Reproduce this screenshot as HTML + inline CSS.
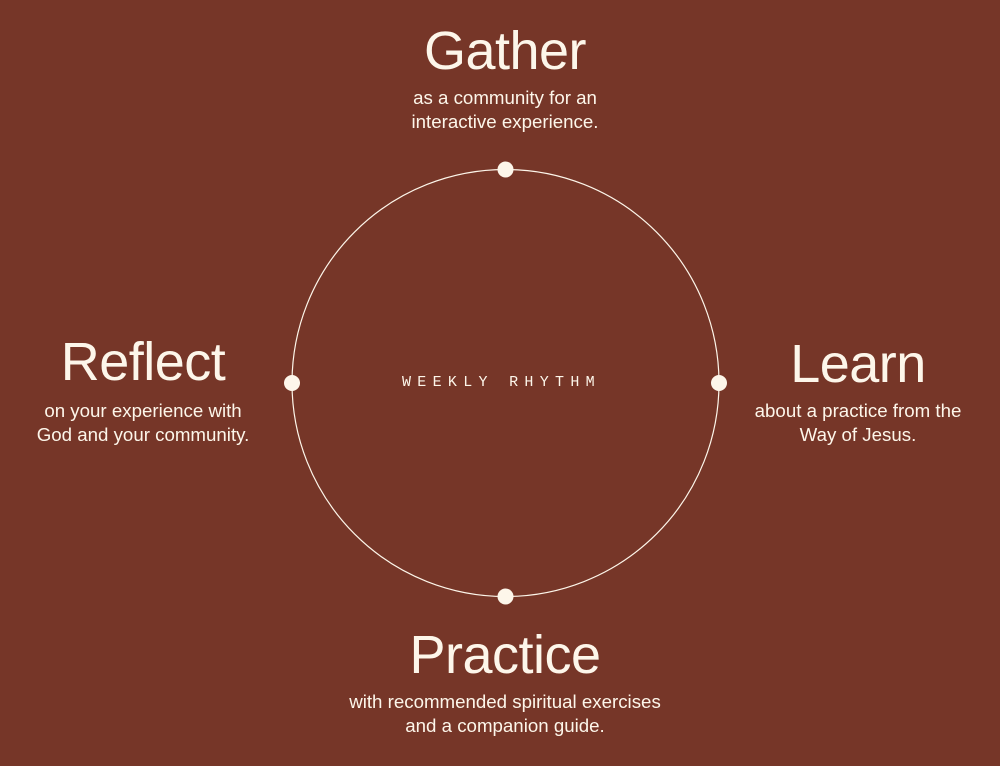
<!DOCTYPE html>
<html><head><meta charset="utf-8"><style>
html,body{margin:0;padding:0;}
body{width:1000px;height:766px;background:#763628;position:relative;overflow:hidden;font-family:"Liberation Sans",sans-serif;color:#fdf6ea;}
.t{position:absolute;font-size:54px;line-height:1;text-align:center;width:400px;letter-spacing:-0.5px;}
.s{position:absolute;font-size:18.7px;line-height:24px;text-align:center;width:400px;}
.c{position:absolute;font-family:"Liberation Mono",monospace;font-size:15px;letter-spacing:6.3px;left:402px;top:374px;white-space:nowrap;}
</style></head><body>
<svg width="1000" height="766" style="position:absolute;left:0;top:0">
<circle cx="505.5" cy="383" r="213.5" fill="none" stroke="#fdf6ea" stroke-width="1.2"/>
<circle cx="505.5" cy="169.5" r="8" fill="#fdf6ea"/>
<circle cx="505.5" cy="596.5" r="8" fill="#fdf6ea"/>
<circle cx="292" cy="383" r="8" fill="#fdf6ea"/>
<circle cx="719" cy="383" r="8" fill="#fdf6ea"/>
</svg>
<div class="t" style="left:305px;top:24px">Gather</div>
<div class="s" style="left:305px;top:86px">as a community for an<br>interactive experience.</div>
<div class="t" style="left:-57px;top:335px">Reflect</div>
<div class="s" style="left:-57px;top:399px">on your experience with<br>God and your community.</div>
<div class="t" style="left:658px;top:337px">Learn</div>
<div class="s" style="left:658px;top:399px">about a practice from the<br>Way of Jesus.</div>
<div class="t" style="left:305px;top:628px">Practice</div>
<div class="s" style="left:305px;top:690px">with recommended spiritual exercises<br>and a companion guide.</div>
<div class="c">WEEKLY RHYTHM</div>
</body></html>
